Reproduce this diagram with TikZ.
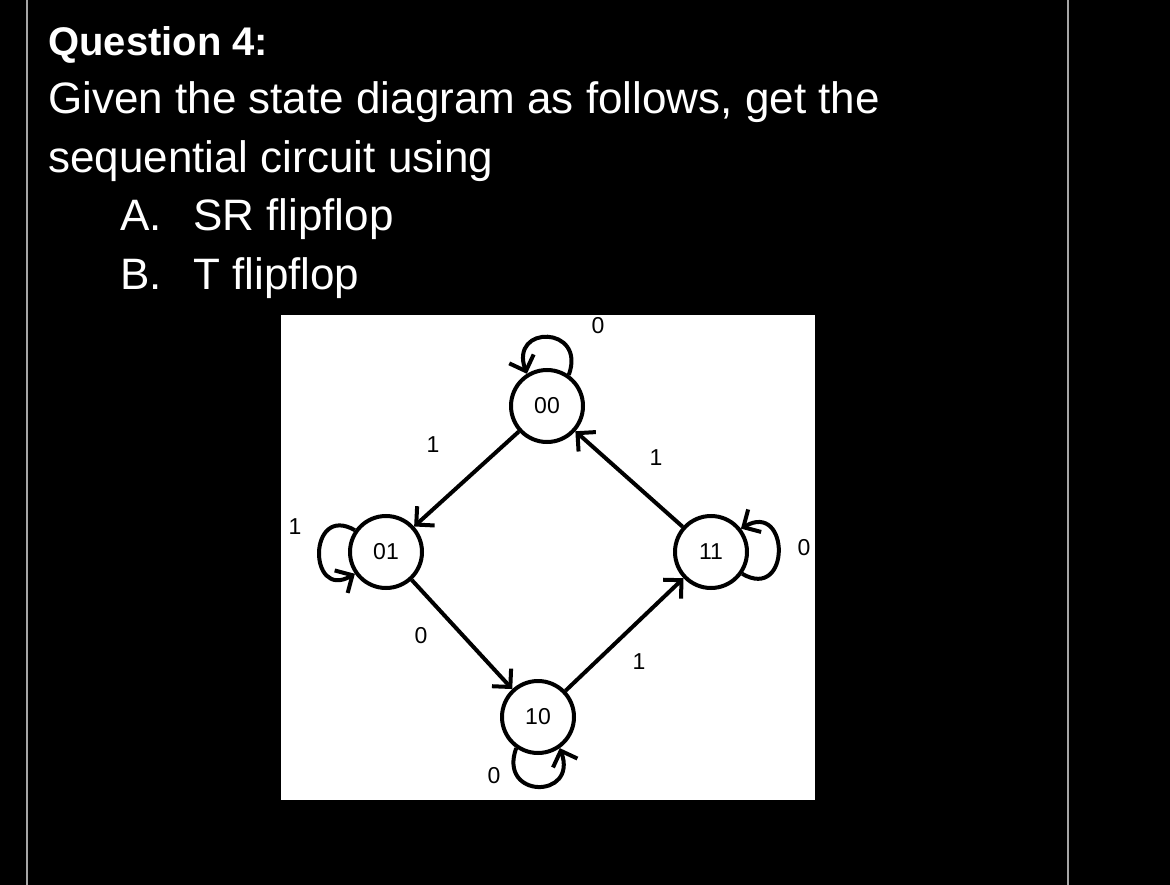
\documentclass[tikz,border=0pt]{standalone}
\usepackage{fontspec}
\setmainfont{Liberation Sans}
\usetikzlibrary{arrows.meta}
\begin{document}
\begin{tikzpicture}[x=1pt,y=-1pt,
  st/.style={circle,draw=black,line width=4pt,fill=white,minimum size=72pt,inner sep=0pt,font=\fontsize{23}{25}\selectfont},
  tr/.style={line width=4pt,-{Straight Barb[length=13pt,width=26pt,line width=4pt]}},
  lb/.style={font=\fontsize{23}{25}\selectfont,text=black},
  txt/.style={anchor=base west,text=white,inner sep=0pt,font=\fontsize{44}{46}\selectfont}]
\fill[black] (0,0) rectangle (1170,885);
\useasboundingbox (0,0) rectangle (1170,885);
\draw[gray!70,line width=2pt] (27,0) -- (27,885);
\draw[gray!70,line width=2pt] (1068,0) -- (1068,885);
\node[txt,font=\fontsize{40}{42}\selectfont\bfseries] (q) at (48,56) {Question 4:};
\node[txt] (l1) at (48,114) {Given the state diagram as follows, get the};
\node[txt] (l2) at (48,173) {sequential circuit using};
\node[txt] (a) at (120,231) {A.};
\node[txt] (a2) at (193,231) {SR flipflop};
\node[txt] (b) at (120,290) {B.};
\node[txt] (b2) at (193,290) {T flipflop};
\fill[white] (281,315) rectangle (815,800);
\node[st] (s00) at (547,406) {00};
\node[st] (s01) at (386,552) {01};
\node[st] (s11) at (711,552) {11};
\node[st] (s10) at (538,717) {10};
\draw[tr] (s00) -- (s01);
\draw[tr] (s01) -- (s10);
\draw[tr] (s10) -- (s11);
\draw[tr] (s11) -- (s00);
\draw[tr] (s00.55) to[out=70,in=110,looseness=3.2] (s00.122);
\draw[tr] (s01.145) to[out=150,in=210,looseness=3.2] (s01.215);
\draw[tr] (s11.325) to[out=-30,in=30,looseness=3.2] (s11.38);
\draw[tr] (s10.235) to[out=250,in=-70,looseness=3.2] (s10.-55);
\node[lb] (t1) at (598,326) {0};
\node[lb] (t2) at (295,527) {1};
\node[lb] (t3) at (804,548) {0};
\node[lb] (t4) at (494,776) {0};
\node[lb] (t5) at (433,445) {1};
\node[lb] (t6) at (656,458) {1};
\node[lb] (t7) at (421,636) {0};
\node[lb] (t8) at (639,662) {1};
\end{tikzpicture}
\end{document}
